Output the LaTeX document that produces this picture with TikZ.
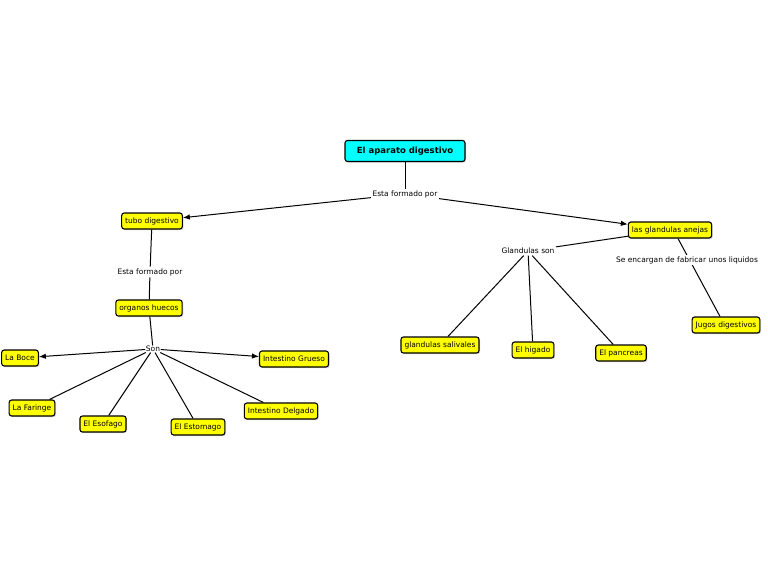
\documentclass[tikz,border=0pt]{standalone}
\usepackage{fontspec}
\setmainfont{DejaVu Sans}
\usetikzlibrary{shadows,arrows.meta,backgrounds}
\definecolor{rootc}{RGB}{0,255,255}
\definecolor{boxc}{RGB}{255,255,0}
\begin{document}
\begin{tikzpicture}[x=1pt,y=-1pt,
  box/.style={draw=black,line width=1.1pt,rounded corners=2.5pt,fill=boxc,font=\fontsize{7.5}{9}\selectfont,inner sep=3.5pt,minimum height=16pt,drop shadow={shadow xshift=1.2pt,shadow yshift=-1.2pt,fill=gray!60}},
  rootbox/.style={box,fill=rootc,font=\fontsize{8.5}{10}\selectfont\bfseries,minimum width=120pt,minimum height=21pt},
  lbl/.style={fill=white,font=\fontsize{7.5}{9}\selectfont,inner sep=1.5pt},
  ln/.style={draw,line width=1pt},
  arr/.style={ln,-{Latex[length=7pt,width=5.5pt]}}]
\useasboundingbox (0,0) rectangle (768,578);
\node[rootbox] (root) at (405,151) {El aparato digestivo};
\node[lbl] (l1) at (405,194) {Esta formado por};
\node[box] (tubo) at (152,221) {tubo digestivo};
\node[lbl] (l2) at (150,272) {Esta formado por};
\node[box] (org) at (149,308) {organos huecos};
\node[lbl,inner sep=0.5pt] (son) at (153,349) {Son};
\node[box] (boca) at (20,358) {La Boce};
\node[box] (grueso) at (294,359) {Intestino Grueso};
\node[box] (far) at (32,408) {La Faringe};
\node[box] (eso) at (103,424) {El Esofago};
\node[box] (est) at (198,427) {El Estomago};
\node[box] (del) at (281,411) {Intestino Delgado};
\node[box] (anejas) at (670,230) {las glandulas anejas};
\node[lbl] (gs) at (528,251) {Glandulas son};
\node[lbl] (se) at (687,260) {Se encargan de fabricar unos liquidos};
\node[box] (jugos) at (726,325) {Jugos digestivos};
\node[box] (sal) at (440,345) {glandulas salivales};
\node[box] (hig) at (533,350) {El higado};
\node[box] (pan) at (621,353) {El pancreas};
\draw[ln] (root) -- (l1);
\draw[arr] (l1) -- (tubo);
\draw[arr] (l1) -- (anejas);
\draw[ln] (tubo) -- (l2);
\draw[ln] (l2) -- (org);
\draw[ln] (org) -- (son);
\draw[arr] (son) -- (boca);
\draw[arr] (son) -- (grueso);
\draw[ln] (son) -- (far);
\draw[ln] (son) -- (eso);
\draw[ln] (son) -- (est);
\draw[ln] (son) -- (del);
\draw[ln] (anejas) -- (gs);
\draw[ln] (gs) -- (sal);
\draw[ln] (gs) -- (hig);
\draw[ln] (gs) -- (pan);
\begin{pgfonlayer}{background}
\draw[ln] ([xshift=8pt]anejas.south) -- ([xshift=-6pt]jugos.north);
\end{pgfonlayer}
\end{tikzpicture}
\end{document}
